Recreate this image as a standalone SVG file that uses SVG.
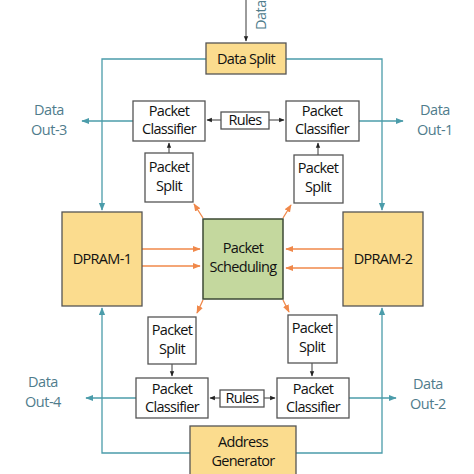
<svg xmlns="http://www.w3.org/2000/svg" width="474" height="474" viewBox="0 0 474 474">
<defs>
<style>
.box{fill:#fff;stroke:#555;stroke-width:1.3}
.yel{fill:#fbdc8e;stroke:#555;stroke-width:1.3}
.grn{fill:#c4d89e;stroke:#3d4a35;stroke-width:1.5}
text{font-family:"Open Sans","DejaVu Sans",sans-serif;font-size:14.5px;fill:#111;text-anchor:middle;letter-spacing:-0.7px}
.out{fill:#4f7c8c;font-size:14.5px;letter-spacing:-0.5px}
.teal{stroke:#4b9caa;stroke-width:1.3;fill:none}
.org{stroke:#f0884a;stroke-width:1.3;fill:none}
.blk{stroke:#222;stroke-width:0.9;fill:none}
</style>
<marker id="at" viewBox="0 0 10 10" refX="9" refY="5" markerWidth="6" markerHeight="6" orient="auto"><path d="M0,1 L10,5 L0,9 z" fill="#4b9caa"/></marker>
<marker id="ao" viewBox="0 0 10 10" refX="9" refY="5" markerWidth="6" markerHeight="6" orient="auto"><path d="M0,1 L10,5 L0,9 z" fill="#f0884a"/></marker>
<marker id="ab" viewBox="0 0 10 10" refX="9" refY="5" markerWidth="6" markerHeight="6" orient="auto"><path d="M0,1 L10,5 L0,9 z" fill="#222"/></marker>
</defs>

<g id="connectors">
<path class="blk" d="M246,0 V41" marker-end="url(#ab)"/>
<path class="teal" d="M206,59 H102 V210" marker-end="url(#at)"/>
<path class="teal" d="M286,59 H382 V210" marker-end="url(#at)"/>
<path class="teal" d="M190,453 H102 V308" marker-end="url(#at)"/>
<path class="teal" d="M296,453 H382 V308" marker-end="url(#at)"/>
<path class="teal" d="M133,121 H82" marker-end="url(#at)"/>
<path class="teal" d="M359,121 H403" marker-end="url(#at)"/>
<path class="teal" d="M136,398 H86" marker-end="url(#at)"/>
<path class="teal" d="M349,398 H396" marker-end="url(#at)"/>
<path class="blk" d="M221,120 H207" marker-end="url(#ab)"/>
<path class="blk" d="M269,120 H284" marker-end="url(#ab)"/>
<path class="blk" d="M220,398 H210" marker-end="url(#ab)"/>
<path class="blk" d="M264,398 H275" marker-end="url(#ab)"/>
<path class="blk" d="M169,153 V143" marker-end="url(#ab)"/>
<path class="blk" d="M318,155 V143" marker-end="url(#ab)"/>
<path class="blk" d="M172,364 V376" marker-end="url(#ab)"/>
<path class="blk" d="M312,363 V376" marker-end="url(#ab)"/>
<path class="org" d="M142,249 H200" marker-end="url(#ao)"/>
<path class="org" d="M142,266 H200" marker-end="url(#ao)"/>
<path class="org" d="M343,249 H286" marker-end="url(#ao)"/>
<path class="org" d="M343,268 H286" marker-end="url(#ao)"/>
<path class="org" d="M203,218 L194,204" marker-end="url(#ao)"/>
<path class="org" d="M283,218 L291,205" marker-end="url(#ao)"/>
<path class="org" d="M203,300 L197,313" marker-end="url(#ao)"/>
<path class="org" d="M283,300 L289,312" marker-end="url(#ao)"/>
</g>

<text class="out" transform="translate(266,30) rotate(-90)" style="text-anchor:start">Data</text>

<g id="datasplit"><rect class="yel" x="206" y="43" width="80" height="31"/><text x="246" y="64">Data Split</text></g>

<g id="pc1"><rect class="box" x="133" y="101" width="72" height="40"/><text x="169" y="116">Packet</text><text x="169" y="134">Classifier</text></g>
<g id="pc2"><rect class="box" x="286" y="101" width="73" height="40"/><text x="322" y="116">Packet</text><text x="322" y="134">Classifier</text></g>
<g id="rules1"><rect class="box" x="221" y="112" width="48" height="17"/><text x="245" y="125">Rules</text></g>

<g id="ps1"><rect class="box" x="145" y="153" width="48" height="49"/><text x="169" y="172">Packet</text><text x="169" y="191">Split</text></g>
<g id="ps2"><rect class="box" x="294" y="155" width="49" height="48"/><text x="318" y="173">Packet</text><text x="318" y="192">Split</text></g>

<g id="dpram1"><rect class="yel" x="62" y="212" width="80" height="94"/><text x="102" y="264">DPRAM-1</text></g>
<g id="dpram2"><rect class="yel" x="343" y="212" width="80" height="94"/><text x="383" y="264">DPRAM-2</text></g>
<g id="sched"><rect class="grn" x="203" y="219" width="80" height="80"/><text x="243" y="253">Packet</text><text x="243" y="272">Scheduling</text></g>

<g id="ps3"><rect class="box" x="148" y="317" width="48" height="47"/><text x="172" y="335">Packet</text><text x="172" y="354">Split</text></g>
<g id="ps4"><rect class="box" x="288" y="315" width="49" height="48"/><text x="312" y="333">Packet</text><text x="312" y="352">Split</text></g>

<g id="pc3"><rect class="box" x="136" y="378" width="72" height="40"/><text x="172" y="394">Packet</text><text x="172" y="412">Classifier</text></g>
<g id="pc4"><rect class="box" x="277" y="378" width="72" height="40"/><text x="313" y="394">Packet</text><text x="313" y="412">Classifier</text></g>
<g id="rules2"><rect class="box" x="220" y="390" width="44" height="17"/><text x="242" y="403">Rules</text></g>

<g id="addrgen"><rect class="yel" x="190" y="426" width="106" height="52"/><text x="243" y="447">Address</text><text x="243" y="466">Generator</text></g>

<g id="out3"><text class="out" x="49" y="115">Data</text><text class="out" x="49" y="135">Out-3</text></g>
<g id="out1"><text class="out" x="435" y="115">Data</text><text class="out" x="435" y="135">Out-1</text></g>
<g id="out4"><text class="out" x="43" y="387">Data</text><text class="out" x="43" y="407">Out-4</text></g>
<g id="out2"><text class="out" x="428" y="389">Data</text><text class="out" x="428" y="409">Out-2</text></g>
</svg>
